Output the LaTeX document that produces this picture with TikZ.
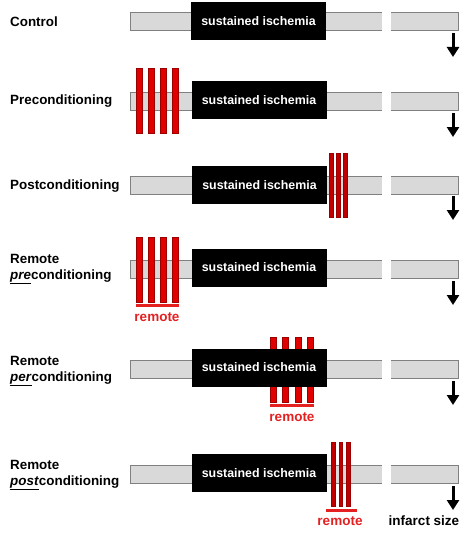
\documentclass[tikz,border=0pt]{standalone}
\usepackage{fontspec}
\setmainfont{Liberation Sans}
\usetikzlibrary{arrows.meta}
\definecolor{barfill}{HTML}{D9D9D9}
\definecolor{barline}{HTML}{808080}
\definecolor{condred}{HTML}{E00000}
\definecolor{condedge}{HTML}{9A0000}
\definecolor{thinred}{HTML}{C00000}
\definecolor{remred}{HTML}{E42020}
\newcommand\mytimeline[1]{%
  \fill[barfill] (130,#1-9) rectangle (382,#1+9);
  \fill[barfill] (391,#1-9) rectangle (458,#1+9);
  \draw[barline,line width=0.8pt] (382,#1-9) -- (130,#1-9) -- (130,#1+9) -- (382,#1+9);
  \draw[barline,line width=0.8pt] (391,#1-9) -- (458,#1-9) -- (458,#1+9) -- (391,#1+9);
}
\begin{document}
\begin{tikzpicture}[x=1pt,y=-1pt,
  ischemia/.style={fill=black,text=white,minimum width=135pt,minimum height=38pt,inner sep=0pt,
    font=\bfseries\fontsize{12.4}{14}\selectfont},
  lab/.style={anchor=west,align=left,inner sep=0pt,font=\bfseries\fontsize{13.4}{16}\selectfont},
  remtext/.style={text=remred,inner sep=0pt,font=\bfseries\fontsize{13.5}{15}\selectfont},
  condbar/.style={fill=condred,draw=condedge,line width=0.6pt},
  thinbar/.style={fill=thinred,draw=condedge,line width=0.5pt},
  remline/.style={draw=remred,line width=2.5pt},
  outarrow/.style={line width=3pt,-{Triangle[width=12pt,length=10pt]}}]
\useasboundingbox (0,0) rectangle (474,535);

% ---- Row 1: Control
\mytimeline{21}
\node[ischemia] (isc1) at (258.5,21) {sustained ischemia};
\node[lab] (lab1) at (10,22) {Control};
\coordinate (a1s) at (453,33); \coordinate (a1e) at (453,57);
\draw[outarrow] (a1s) -- (a1e);

% ---- Row 2: Preconditioning
\mytimeline{101}
\foreach \x in {139,151.2,163.4,175.6} \filldraw[condbar] (\x-3.1,68) rectangle (\x+3.1,133);
\node[ischemia] (isc2) at (259,100) {sustained ischemia};
\node[lab] (lab2) at (10,101) {Preconditioning};
\coordinate (a2s) at (453,113); \coordinate (a2e) at (453,137);
\draw[outarrow] (a2s) -- (a2e);

% ---- Row 3: Postconditioning
\mytimeline{185}
\node[ischemia] (isc3) at (259.5,185) {sustained ischemia};
\foreach \x in {331.5,338.5,345.5} \filldraw[thinbar] (\x-1.9,153) rectangle (\x+1.9,217);
\node[lab] (lab3) at (10,186) {Postconditioning};
\coordinate (a3s) at (453,196); \coordinate (a3e) at (453,220);
\draw[outarrow] (a3s) -- (a3e);

% ---- Row 4: Remote preconditioning
\mytimeline{269}
\foreach \x in {139,151.2,163.4,175.6} \filldraw[condbar] (\x-3.1,237) rectangle (\x+3.1,302);
\node[ischemia] (isc4) at (259,267.5) {sustained ischemia};
\coordinate (r4a) at (136,305.5); \coordinate (r4b) at (178.5,305.5);
\draw[remline] (r4a) -- (r4b);
\node[remtext] (rem4) at (157,317) {remote};
\node[lab] (lab4) at (10,269) {Remote\\\underline{\textit{pre}}conditioning};
\coordinate (a4s) at (453,281); \coordinate (a4e) at (453,305);
\draw[outarrow] (a4s) -- (a4e);

% ---- Row 5: Remote perconditioning
\mytimeline{369}
\foreach \x in {273.3,285.6,298,310.5} \filldraw[condbar] (\x-3.1,337) rectangle (\x+3.1,402);
\node[ischemia] (isc5) at (259,367.5) {sustained ischemia};
\coordinate (r5a) at (270,405.5); \coordinate (r5b) at (314,405.5);
\draw[remline] (r5a) -- (r5b);
\node[remtext] (rem5) at (292,417) {remote};
\node[lab] (lab5) at (10,371) {Remote\\\underline{\textit{per}}conditioning};
\coordinate (a5s) at (453,381); \coordinate (a5e) at (453,405);
\draw[outarrow] (a5s) -- (a5e);

% ---- Row 6: Remote postconditioning
\mytimeline{474}
\node[ischemia] (isc6) at (259,473) {sustained ischemia};
\foreach \x in {333.5,340.8,348} \filldraw[thinbar] (\x-1.9,442) rectangle (\x+1.9,506);
\coordinate (r6a) at (326,510.5); \coordinate (r6b) at (357,510.5);
\draw[remline] (r6a) -- (r6b);
\node[remtext] (rem6) at (340,521) {remote};
\node[lab] (lab6) at (10,475) {Remote\\\underline{\textit{post}}conditioning};
\coordinate (a6s) at (453,486); \coordinate (a6e) at (453,510);
\draw[outarrow] (a6s) -- (a6e);
\node[inner sep=0pt,font=\bfseries\fontsize{13.5}{15}\selectfont] (inf) at (424,521) {infarct size};
\end{tikzpicture}
\end{document}
